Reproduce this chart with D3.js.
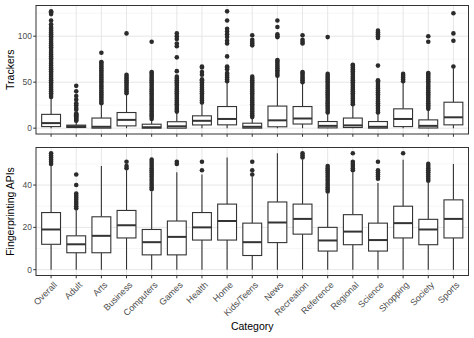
<!DOCTYPE html>
<html>
<head>
<meta charset="utf-8">
<script src="https://cdn.jsdelivr.net/npm/d3@7"></script>
<style>
  html, body { margin: 0; padding: 0; background: #fff; }
  svg { display: block; font-family: "Liberation Sans", Arial, Helvetica, sans-serif; }
</style>
</head>
<body>
<svg id="chart" width="474" height="338"></svg>
<script>
// ---------------- DATA ----------------
const categories = ["Overall","Adult","Arts","Business","Computers","Games","Health","Home","Kids/Teens","News","Recreation","Reference","Regional","Science","Shopping","Society","Sports"];

// Trackers: [lower whisker, Q1, median, Q3, upper whisker]
const trackerStats = [
  [0, 1.7, 5.5, 15, 33],
  [0, 0.7, 2, 3.3, 7],
  [0, 0, 1.5, 11, 26],
  [0, 2.5, 9, 17, 37],
  [0, 0, 1, 4.3, 9],
  [0, 0, 2, 7, 17],
  [0, 3.5, 8, 13.4, 27],
  [0, 3.6, 10, 23.5, 50],
  [0, 0, 1.5, 5.4, 11],
  [0, 1.5, 8.5, 24, 56],
  [0, 4.5, 10.5, 23.5, 49],
  [0, 0.3, 2.5, 7.2, 16],
  [0, 0.7, 3, 11, 25],
  [0, 0, 1.5, 7.2, 16],
  [0, 1.7, 10, 21, 50],
  [0, 0.2, 2.5, 9, 20],
  [0, 3.6, 11.8, 28.2, 65]
];
const trackerOutliers = [
  [34,36,38,40,42,44,46,48,50,52,54,56,58,60,62,64,66,68,70,72,74,76,78,80,82,84,86,88,90,92,94,96,98,100,102,104,106,108,110,113,117,124,126,127],
  [8,9,10,11,12,13,14,15,16,20,22,25,27,31,35,40,46],
  [27,29,31,33,35,37,39,41,43,45,47,49,51,53,55,57,59,61,63,65,67,69,71,72,82],
  [38,40,42,44,46,48,50,52,54,56,58,103],
  [10,12,14,16,18,20,22,24,26,28,30,32,34,36,38,40,42,44,46,48,50,52,54,56,58,60,61,94],
  [18,20,22,24,26,28,30,32,34,36,38,40,42,44,46,48,50,52,54,56,62,77,89,92,97,100,103],
  [28,30,32,34,36,38,40,42,44,46,48,50,52,53,58,61,66,67],
  [51,53,55,57,59,60,64,66,67,78,92,95,99,102,105,108,117,127],
  [12,14,16,18,20,22,24,26,28,30,32,34,36,38,40,42,44,46,48,50,52,54,56,90,92,94,96,101],
  [57,59,61,63,65,67,69,71,73,74,99,100,102,110,117],
  [50,52,54,56,58,60,61,92,94,96,101],
  [17,19,21,23,25,27,29,31,33,35,37,39,41,43,45,47,49,51,53,55,57,59,99],
  [26,28,30,32,34,36,38,40,42,44,46,48,50,52,54,56,58,60,62,64,66,68,69],
  [17,19,21,23,25,27,29,31,33,35,37,39,41,43,45,47,49,51,52,68,98,100,102,104,106],
  [51,53,55,57,59],
  [21,23,25,27,29,31,33,35,37,39,41,43,45,47,49,51,53,55,57,59,60,94,100],
  [67,95,103,125]
];

// Fingerprinting APIs: [lower whisker, Q1, median, Q3, upper whisker]
const fpStats = [
  [0, 12, 19, 27, 49],
  [0, 8, 12, 16, 28],
  [0, 8, 16, 25, 49],
  [0, 15, 21, 28, 47],
  [0, 7, 13, 19, 37],
  [0, 7, 15.5, 23, 46],
  [0, 14, 20, 27, 45],
  [0, 14, 23, 31, 53],
  [0, 6.7, 13, 22, 44],
  [0, 12.8, 22.3, 32, 55],
  [0, 16.8, 24, 31, 52],
  [0, 8.8, 13.8, 20, 36],
  [0, 11.8, 18, 26, 46],
  [0, 8.8, 14, 22, 41],
  [0, 15, 22, 30, 52],
  [0, 11.8, 19, 23.8, 41],
  [0, 15, 24, 33, 50]
];
const fpOutliers = [
  [50,51,52,53,54,55],
  [29,30,31,32,33,34,35,36,40,45],
  [],
  [48,49,51],
  [38,39,40,41,42,43,44,45,46,47,48,49,50,51,52],
  [50,51],
  [47,51],
  [],
  [45,47,51],
  [],
  [53,54,55],
  [37,38,39,40,41,42,43,44,45,46,47,48,49],
  [47,48,49,50,51,55],
  [43,44,45,46,47,51],
  [55],
  [42,43,44,45,46,47,48,49,50],
  []
];

const trackerTicks = [0, 50, 100];
const trackerMinor = [25, 75, 125];
const fpTicks = [0, 20, 40];
const fpMinor = [10, 30, 50];

const yTitles = ["Trackers", "Fingerprinting APIs"];
const xTitle = "Category";

// ---------------- LAYOUT ----------------
const svg = d3.select("#chart");
const left = 36, right = 468.5;
const panels = [
  { top: 5.5, bottom: 134, domain: [-6.35, 133.35], stats: trackerStats, outl: trackerOutliers, ticks: trackerTicks, minor: trackerMinor, title: yTitles[0], labels: false },
  { top: 147.5, bottom: 275.5, domain: [-2.75, 57.75], stats: fpStats, outl: fpOutliers, ticks: fpTicks, minor: fpMinor, title: yTitles[1], labels: true }
];

const x = d3.scalePoint().domain(categories).range([left, right]).padding(0.6);
const boxW = x.step() * 0.75;

const dark = "#333333";

panels.forEach(p => {
  const y = d3.scaleLinear().domain(p.domain).range([p.bottom, p.top]);
  const g = svg.append("g");

  g.append("rect").attr("x", left).attr("y", p.top).attr("width", right - left).attr("height", p.bottom - p.top).attr("fill", "#fff");

  g.selectAll(".minor").data(p.minor).join("line")
    .attr("x1", left).attr("x2", right)
    .attr("y1", d => y(d)).attr("y2", d => y(d))
    .attr("stroke", "#f0f0f0").attr("stroke-width", 0.6);
  g.selectAll(".major").data(p.ticks).join("line")
    .attr("x1", left).attr("x2", right)
    .attr("y1", d => y(d)).attr("y2", d => y(d))
    .attr("stroke", "#e6e6e6").attr("stroke-width", 1);
  g.selectAll(".vmajor").data(categories).join("line")
    .attr("x1", d => x(d)).attr("x2", d => x(d))
    .attr("y1", p.top).attr("y2", p.bottom)
    .attr("stroke", "#e6e6e6").attr("stroke-width", 1);

  const bx = g.selectAll(".box").data(categories).join("g");
  bx.append("line")
    .attr("x1", d => x(d)).attr("x2", d => x(d))
    .attr("y1", (d, i) => y(p.stats[i][0])).attr("y2", (d, i) => y(p.stats[i][1]))
    .attr("stroke", dark).attr("stroke-width", 1.1);
  bx.append("line")
    .attr("x1", d => x(d)).attr("x2", d => x(d))
    .attr("y1", (d, i) => y(p.stats[i][3])).attr("y2", (d, i) => y(p.stats[i][4]))
    .attr("stroke", dark).attr("stroke-width", 1.1);
  bx.append("rect")
    .attr("x", d => x(d) - boxW / 2).attr("width", boxW)
    .attr("y", (d, i) => y(p.stats[i][3]))
    .attr("height", (d, i) => Math.max(0.5, y(p.stats[i][1]) - y(p.stats[i][3])))
    .attr("fill", "#fff").attr("stroke", dark).attr("stroke-width", 1.1);
  bx.append("line")
    .attr("x1", d => x(d) - boxW / 2).attr("x2", d => x(d) + boxW / 2)
    .attr("y1", (d, i) => y(p.stats[i][2])).attr("y2", (d, i) => y(p.stats[i][2]))
    .attr("stroke", dark).attr("stroke-width", 2);
  bx.each(function(d, i) {
    d3.select(this).selectAll("circle").data(p.outl[i]).join("circle")
      .attr("cx", x(d)).attr("cy", v => y(v)).attr("r", 2.3)
      .attr("fill", "#2b2b2b");
  });

  g.append("rect").attr("x", left).attr("y", p.top).attr("width", right - left).attr("height", p.bottom - p.top)
    .attr("fill", "none").attr("stroke", dark).attr("stroke-width", 1);

  g.selectAll(".yt").data(p.ticks).join("line")
    .attr("x1", left - 2.8).attr("x2", left)
    .attr("y1", d => y(d)).attr("y2", d => y(d))
    .attr("stroke", dark).attr("stroke-width", 1);
  g.selectAll(".yl").data(p.ticks).join("text")
    .attr("x", left - 4).attr("y", d => y(d)).attr("dy", "0.35em")
    .attr("text-anchor", "end").attr("font-size", 8.5).attr("fill", "#4d4d4d")
    .text(d => d);

  g.selectAll(".xt").data(categories).join("line")
    .attr("x1", d => x(d)).attr("x2", d => x(d))
    .attr("y1", p.bottom).attr("y2", p.bottom + 2.8)
    .attr("stroke", dark).attr("stroke-width", 1);

  if (p.labels) {
    g.selectAll(".xl").data(categories).join("text")
      .attr("transform", d => `translate(${x(d) + 6.5},${p.bottom + 10}) rotate(-45)`)
      .attr("text-anchor", "end").attr("font-size", 9).attr("fill", "#4d4d4d")
      .text(d => d);
  }

  g.append("text")
    .attr("transform", `translate(14,${(p.top + p.bottom) / 2}) rotate(-90)`)
    .attr("text-anchor", "middle").attr("font-size", 10.5).attr("fill", "#000")
    .text(p.title);
});

svg.append("text")
  .attr("x", (left + right) / 2).attr("y", 329.5)
  .attr("text-anchor", "middle").attr("font-size", 10.5).attr("fill", "#000")
  .text(xTitle);
</script>
</body>
</html>
